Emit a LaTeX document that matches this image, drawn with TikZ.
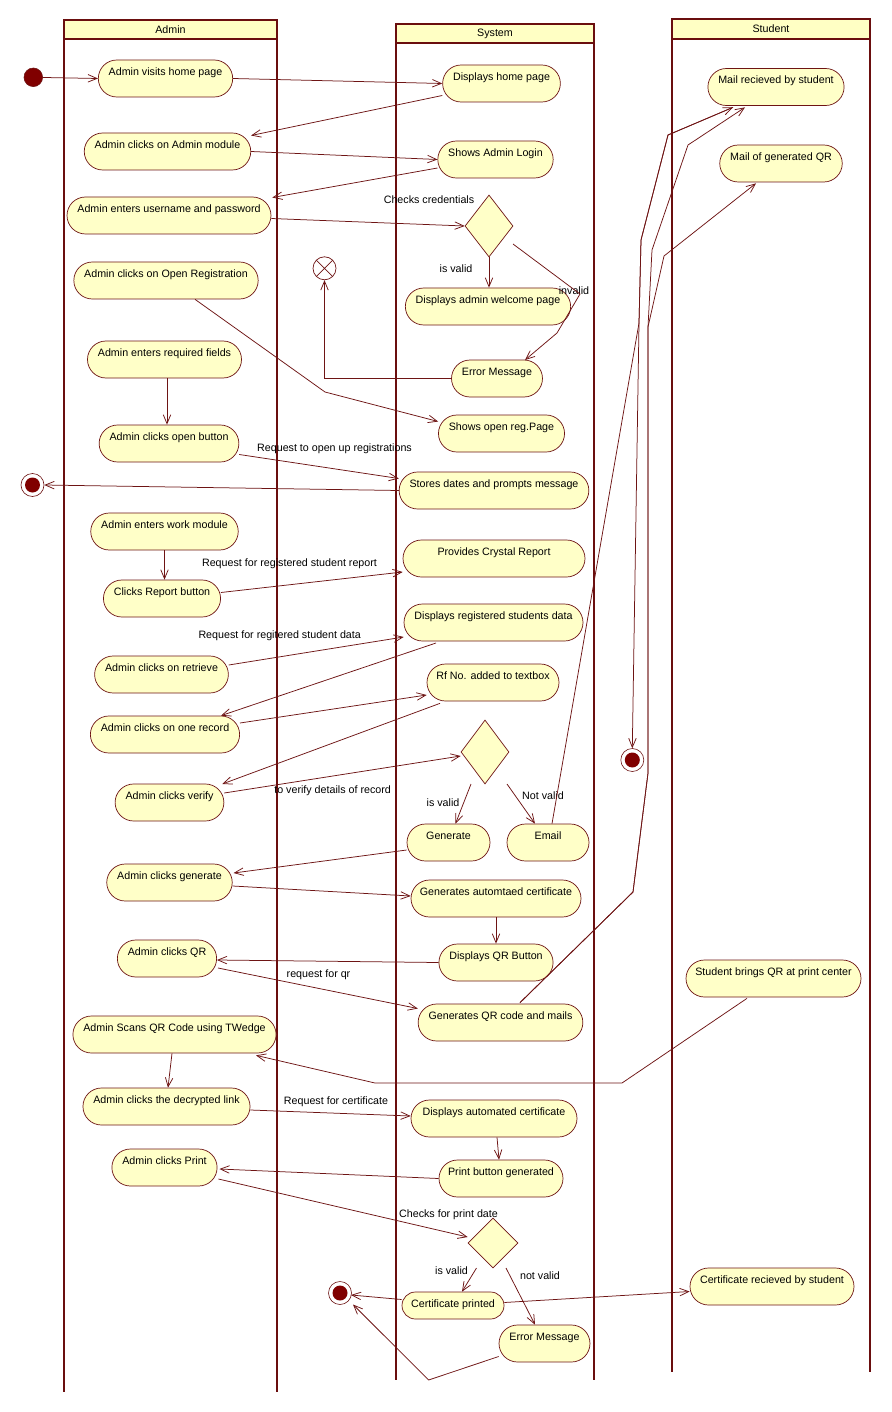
\documentclass[tikz,border=0pt]{standalone}
\usepackage{fontspec}
\setmainfont{Liberation Sans}
\usetikzlibrary{shapes.misc,shapes.geometric,arrows.meta,calc}
\definecolor{lanec}{RGB}{106,14,14}
\definecolor{linec}{RGB}{110,20,20}
\definecolor{actfill}{RGB}{255,255,200}
\definecolor{hdrfill}{RGB}{255,255,196}
\definecolor{dotc}{RGB}{128,0,0}
\pgfdeclarelayer{bg}
\pgfsetlayers{bg,main}
\begin{document}
\begin{tikzpicture}[x=1pt,y=-1pt,
  every node/.style={font=\fontsize{10.7pt}{12pt}\selectfont, text=black},
  act/.style={rounded rectangle, draw=linec, line width=0.7pt, fill=actfill, minimum height=37pt, inner xsep=2pt, inner ysep=3pt, text height=12.5pt, text depth=18.5pt},
  actsmall/.style={act, minimum height=27pt, text depth=8.5pt},
  dec/.style={diamond, draw=linec, line width=0.7pt, fill=actfill, inner sep=0pt},
  lane/.style={draw=lanec, line width=2.4pt},
  hdr/.style={draw=lanec, line width=2.4pt, fill=hdrfill, inner sep=0pt},
  flow/.style={draw=linec, line width=0.75pt, -{Straight Barb[length=9pt,width=7.5pt]}},
  lbl/.style={inner sep=0pt},
  startst/.style={circle, fill=dotc, draw=linec, line width=0.6pt, minimum size=18.6pt, inner sep=0pt},
  finalst/.style={circle, draw=linec, line width=0.6pt, fill=white, minimum size=23pt, inner sep=0pt,
     path picture={\fill[dotc] (path picture bounding box.center) circle (7.5pt);}},
  flowfinal/.style={circle, draw=linec, line width=0.7pt, fill=white, minimum size=23pt, inner sep=0pt,
     path picture={\draw[linec, line width=0.7pt] (path picture bounding box.north west)--(path picture bounding box.south east) (path picture bounding box.south west)--(path picture bounding box.north east);}}
]
\useasboundingbox (0,0) rectangle (891,1412);

% lanes
\begin{pgfonlayer}{bg}
\fill[white] (0,0) rectangle (891,1412);
\draw[lane] (64,20) -- (64,1392) (277,20) -- (277,1392);
\draw[lane] (396,24) -- (396,1380) (594,24) -- (594,1380);
\draw[lane] (672,19) -- (672,1372) (870,19) -- (870,1372);
\end{pgfonlayer}
\node[hdr, minimum width=213pt, minimum height=19pt] (adminlane) at (170.5,29.5) {Admin};
\node[hdr, minimum width=198pt, minimum height=19pt] (systemlane) at (495,33.5) {System};
\node[hdr, minimum width=198pt, minimum height=20pt] (studentlane) at (771,29) {Student};

% Admin activities
\node[act, minimum width=131pt] (a1) at (165.5,78.5) {Admin visits home page};
\node[act, minimum width=159pt] (a2) at (167.5,151.5) {Admin clicks on Admin module};
\node[act, minimum width=202pt] (a3) at (169,215.5) {Admin enters username and password};
\node[act, minimum width=180pt] (a4) at (166,280.5) {Admin clicks on Open Registration};
\node[act, minimum width=153pt] (a5) at (164.5,359.5) {Admin enters required fields};
\node[act, minimum width=136pt] (a6) at (169,443.5) {Admin clicks open button};
\node[act, minimum width=145pt] (a7) at (164.5,531.5) {Admin enters work module};
\node[act, minimum width=116pt] (a8) at (162,598.5) {Clicks Report button};
\node[act, minimum width=131pt] (a9) at (161.5,674.5) {Admin clicks on retrieve};
\node[act, minimum width=144pt] (a10) at (165,734.5) {Admin clicks on one record};
\node[act, minimum width=105pt] (a11) at (169.5,802.5) {Admin clicks verify};
\node[act, minimum width=121pt] (a12) at (169.5,882.5) {Admin clicks generate};
\node[act, minimum width=92pt] (a13) at (167,958.5) {Admin clicks QR};
\node[act, minimum width=195pt] (a14) at (174.5,1034.5) {Admin Scans QR Code using TWedge};
\node[act, minimum width=163pt] (a15) at (166.5,1106.5) {Admin clicks the decrypted link};
\node[act, minimum width=105pt] (a16) at (164.5,1167.5) {Admin clicks Print};

% System activities
\node[act, minimum width=113pt] (s1) at (501.5,83.5) {Displays home page};
\node[act, minimum width=109pt] (s2) at (495.5,159.5) {Shows Admin Login};
\node[act, minimum width=160pt] (s3) at (488,306.5) {Displays admin welcome page};
\node[act, minimum width=88pt] (s4) at (497,378.5) {Error Message};
\node[act, minimum width=123pt] (s5) at (501.5,433.5) {Shows open reg.Page};
\node[act, minimum width=188pt] (s6) at (494,490.5) {Stores dates and prompts message};
\node[act, minimum width=186pt] (s7) at (494,558.5) {Provides Crystal Report};
\node[act, minimum width=179pt] (s8) at (493.5,622.5) {Displays registered students data};
\node[act, minimum width=136pt] (s9) at (493,682.5) {Rf No. added to textbox};
\node[act, minimum width=87pt] (s10) at (448.5,842.5) {Generate};
\node[act, minimum width=86pt] (s11) at (548,842.5) {Email};
\node[act, minimum width=174pt] (s12) at (496,898.5) {Generates automtaed certificate};
\node[act, minimum width=110pt] (s13) at (496,962.5) {Displays QR Button};
\node[act, minimum width=159pt] (s14) at (500.5,1022.5) {Generates QR code and mails};
\node[act, minimum width=170pt] (s15) at (494,1118.5) {Displays automated certificate};
\node[act, minimum width=128pt] (s16) at (501,1178.5) {Print button generated};
\node[actsmall, minimum width=106pt] (s17) at (453,1305.5) {Certificate printed};
\node[act, minimum width=87pt] (s18) at (544.5,1343.5) {Error Message};

% Student activities
\node[act, minimum width=136pt] (t1) at (776,87) {Mail recieved by student};
\node[act, minimum width=122pt] (t2) at (781,163.5) {Mail of generated QR};
\node[act, minimum width=179pt] (t3) at (773.5,978.5) {Student brings QR at print center};
\node[act, minimum width=168pt] (t4) at (772,1286.5) {Certificate recieved by student};

% decisions
\node[dec, minimum width=48pt, minimum height=62pt] (d1) at (489,226) {};
\node[dec, minimum width=48pt, minimum height=64pt] (d2) at (485,752) {};
\node[dec, minimum width=50pt, minimum height=50pt] (d3) at (493,1243) {};

% start / end
\node[startst] (init) at (33.3,77.3) {};
\node[finalst] (f1) at (32.5,485) {};
\node[finalst] (f2) at (632.3,760) {};
\node[finalst] (f3) at (340,1293) {};
\node[flowfinal] (xf) at (324.5,268.3) {};

% labels
\node[lbl] (l1) at (429,200) {Checks credentials};
\node[lbl] (l2) at (456,269) {is valid};
\node[lbl] (l3) at (574,291) {invalid};
\node[lbl] (l4) at (334.5,449) {Request to open up registrations};
\node[lbl] (l5) at (289.5,564) {Request for registered student report};
\node[lbl] (l6) at (279.7,636) {Request for regitered student data};
\node[lbl] (l7) at (332.6,791) {to verify details of record};
\node[lbl] (l8) at (443,803) {is valid};
\node[lbl] (l9) at (543,796) {Not valid};
\node[lbl] (l10) at (318.5,975) {request for qr};
\node[lbl] (l11) at (336,1102) {Request for certificate};
\node[lbl] (l12) at (448.5,1215) {Checks for print date};
\node[lbl] (l13) at (451.5,1271) {is valid};
\node[lbl] (l14) at (540,1276) {not valid};

% connectors
\draw[flow] (init) -- (a1.west);
\draw[flow] (a1.east) -- (s1.west);
\draw[flow] ([shift={(0,12)}]s1.west) -- ([shift={(0,-16)}]a2.east);
\draw[flow] (a2.east) -- (s2.west);
\draw[flow] ([shift={(0,8.5)}]s2.west) -- ([shift={(1,-18)}]a3.east);
\draw[flow] ([shift={(0,3)}]a3.east) -- (d1.west);
\draw[flow] (d1.south) -- (d1.south |- s3.north);
\draw[flow] ([shift={(24,18)}]d1.center) -- (580,294) -- (557,333) -- ([shift={(28,-18.5)}]s4.center);
\draw[flow] (s4.west) -| (xf.south);
\draw[flow] ([shift={(29,0)}]a4.south) -- (325,392) -- ([shift={(0,-12)}]s5.west);
\draw[flow] ([shift={(2.5,0)}]a5.south) -- ([shift={(-2,0)}]a6.north);
\draw[flow] ([shift={(0,11)}]a6.east) -- ([shift={(0,-12)}]s6.west);
\draw[flow] (s6.west) -- (f1.east);
\draw[flow] (a7.south) -- (a7.south |- a8.north);
\draw[flow] ([shift={(0,-6)}]a8.east) -- ([shift={(0,13.5)}]s7.west);
\draw[flow] ([shift={(0,-9.5)}]a9.east) -- ([shift={(0,14.5)}]s8.west);
\draw[flow] ([shift={(-57.5,20.5)}]s8.center) -- ([shift={(56,0)}]a10.north);
\draw[flow] ([shift={(0,-11.5)}]a10.east) -- ([shift={(0,12.5)}]s9.west);
\draw[flow] ([shift={(-53,2)}]s9.south) -- ([shift={(-2,-18.5)}]a11.east);
\draw[flow] ([shift={(0,-9.5)}]a11.east) -- ([shift={(0,4)}]d2.west);
\draw[flow] ([shift={(-14,32)}]d2.center) -- ([shift={(7,0)}]s10.north);
\draw[flow] ([shift={(22,32)}]d2.center) -- ([shift={(-13,0)}]s11.north);
\draw[flow] ([shift={(0,7.5)}]s10.west) -- ([shift={(1,-9.5)}]a12.east);
\draw[flow] ([shift={(0,3.5)}]a12.east) -- ([shift={(0,-2.5)}]s12.west);
\draw[flow] (s12.south) -- (s13.north);
\draw[flow] (s13.west) -- ([shift={(0,1.5)}]a13.east);
\draw[flow] ([shift={(1,9.5)}]a13.east) -- ([shift={(0,-14)}]s14.west);
% mail connectors
\draw[flow] ([shift={(4,0)}]s11.north) -- (639,323) -- (641,240) -- (668,135) -- ([shift={(-43,1.5)}]t1.south);
\draw[flow] ([shift={(-43,1.5)}]t1.south) -- (668,135) -- (641,240) -- (639,323) -- (637,450) -- (f2.north);
\draw[flow] ([shift={(19.5,-1)}]s14.north) -- (633,892) -- (648,773) -- (648,327) -- (652,250) -- (688,145) -- ([shift={(-31,1.5)}]t1.south);
\draw[flow] ([shift={(19.5,-1)}]s14.north) -- (633,892) -- (648,773) -- (648,327) -- (664,256) -- ([shift={(-25,1)}]t2.south);
\draw[flow] ([shift={(-26.5,1)}]t3.south) -- (622,1083) -- (375,1083) -- ([shift={(81.5,2)}]a14.south);
\draw[flow] ([shift={(-2.5,0)}]a14.south) -- ([shift={(1.5,0)}]a15.north);
\draw[flow] ([shift={(0,3.5)}]a15.east) -- ([shift={(0,-2.5)}]s15.west);
\draw[flow] ([shift={(3,0)}]s15.south) -- ([shift={(-2,0)}]s16.north);
\draw[flow] (s16.west) -- ([shift={(2,1.5)}]a16.east);
\draw[flow] ([shift={(1,11.5)}]a16.east) -- ([shift={(0,-6)}]d3.west);
\draw[flow] ([shift={(-16.5,25)}]d3.center) -- ([shift={(9,0)}]s17.north);
\draw[flow] ([shift={(13,25)}]d3.center) -- ([shift={(-9.5,0)}]s18.north);
\draw[flow] ([shift={(0,-6)}]s17.west) -- ([shift={(11,2)}]f3.center);
\draw[flow] ([shift={(0,-3)}]s17.east) -- ([shift={(0,5)}]t4.west);
\draw[flow] ([shift={(0,13)}]s18.west) -- (428.6,1380) -- ([shift={(13,11.5)}]f3.center);
\end{tikzpicture}
\end{document}
